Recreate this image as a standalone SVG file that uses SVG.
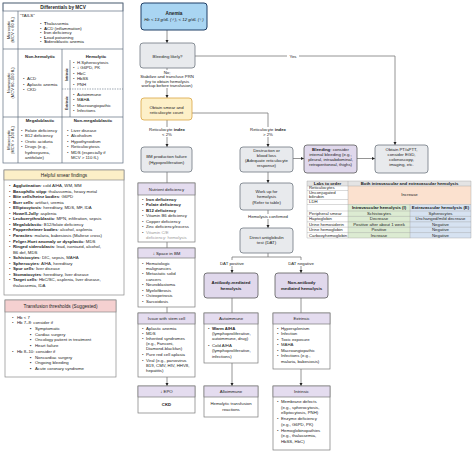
<svg xmlns="http://www.w3.org/2000/svg" width="474" height="454" viewBox="0 0 474 454">
<defs>
<style>
text{font-family:"Liberation Sans",Arial,sans-serif;font-size:4.3px;fill:#222}
.c{text-anchor:middle}
.b{font-weight:bold}
.i{font-style:italic}
.h{font-size:4.7px}
.s{font-size:3.3px}
.sm{font-size:4.1px}
.g{fill:#9a9a9a}
.node{fill:#e8eaed;stroke:#6f7780;stroke-width:0.8}
.pur{fill:#e0d8ec;stroke:#5a5a5a;stroke-width:0.8}
.card{fill:#fff;stroke:#7a7a7a;stroke-width:0.7}
.hd{fill:#e4dcef;stroke:#7a7a7a;stroke-width:0.7}
.tl{stroke:#5e6e80;stroke-width:0.7;fill:none}
.ln{stroke:#7a7a7a;stroke-width:0.8;fill:none}
.ar{marker-end:url(#ah)}
.bg{fill:#fff}
.tc{stroke:#a0a0a0;stroke-width:0.4}
</style>
<marker id="ah" viewBox="0 0 6 6" refX="6" refY="3" markerWidth="3.5" markerHeight="3.5" orient="auto" markerUnits="userSpaceOnUse"><path d="M0,0 L6,3 L0,6z" fill="#222"/></marker>
</defs>
<rect width="474" height="454" fill="#fff"/>

<g id="mcv-table">
<rect x="3" y="3" width="120" height="160" fill="#fff" class="tl"/>
<rect x="3" y="3" width="120" height="8" fill="#cfe2f3" class="tl"/>
<text x="63" y="8.6" class="c b h">Differentials by MCV</text>
<path class="tl" d="M3,49H123M3,117H123M18,11V163M62,49V163M70,60V117"/>
<path d="M62,89H123" stroke="#5e6e80" stroke-width="0.6" stroke-dasharray="1.5,1"/>
<text transform="translate(9.5,30) rotate(-90)" class="c sm"><tspan x="0" y="0">Microcytic</tspan><tspan x="0" y="4.4">(MCV &lt; 80 fL)</tspan></text>
<text transform="translate(9.5,83) rotate(-90)" class="c sm"><tspan x="0" y="0">Normocytic</tspan><tspan x="0" y="4.4">(MCV 80–100 fL)</tspan></text>
<text transform="translate(9.5,140) rotate(-90)" class="c sm"><tspan x="0" y="0">Macrocytic</tspan><tspan x="0" y="4.4">(MCV &gt; 100 fL)</tspan></text>
<text x="20" y="17">"TAILS"</text>
<text y="25"><tspan x="40">•</tspan><tspan x="44" class="b">T</tspan><tspan>halassemia</tspan></text>
<text y="29.5"><tspan x="40">•</tspan><tspan x="44" class="b">A</tspan><tspan>CD (inflammation)</tspan></text>
<text y="34"><tspan x="40">•</tspan><tspan x="44" class="b">I</tspan><tspan>ron deficiency</tspan></text>
<text y="38.5"><tspan x="40">•</tspan><tspan x="44" class="b">L</tspan><tspan>ead poisoning</tspan></text>
<text y="43"><tspan x="40">•</tspan><tspan x="44" class="b">S</tspan><tspan>ideroblastic anemia</tspan></text>
<text x="40" y="57.5" class="c b">Non-hemolytic</text>
<text x="96" y="57.5" class="c b">Hemolytic</text>
<text transform="translate(67.8,74.5) rotate(-90)" class="c b s">Intrinsic</text>
<text transform="translate(67.8,103) rotate(-90)" class="c b s">Extrinsic</text>
<text y="80"><tspan x="23">•</tspan><tspan x="27">ACD</tspan></text>
<text y="85.5"><tspan x="23">•</tspan><tspan x="27">Aplastic anemia</tspan></text>
<text y="91"><tspan x="23">•</tspan><tspan x="27">CKD</tspan></text>
<text y="63.5"><tspan x="73">•</tspan><tspan x="77">H.Spherocytosis</tspan></text>
<text y="69"><tspan x="73">•</tspan><tspan x="77">↓ G6PD, PK</tspan></text>
<text y="74.5"><tspan x="73">•</tspan><tspan x="77">HbC</tspan></text>
<text y="80"><tspan x="73">•</tspan><tspan x="77">HbSS</tspan></text>
<text y="85.5"><tspan x="73">•</tspan><tspan x="77">PNH</tspan></text>
<text y="95.5"><tspan x="73">•</tspan><tspan x="77">Autoimmune</tspan></text>
<text y="101"><tspan x="73">•</tspan><tspan x="77">MAHA</tspan></text>
<text y="106.5"><tspan x="73">•</tspan><tspan x="77">Macroangiopathic</tspan></text>
<text y="112"><tspan x="73">•</tspan><tspan x="77">Infections</tspan></text>
<text x="40" y="122" class="c b">Megaloblastic</text>
<text x="93" y="122" class="c b">Non-megaloblastic</text>
<text y="131.5"><tspan x="21">•</tspan><tspan x="25">Folate deficiency</tspan></text>
<text y="137"><tspan x="21">•</tspan><tspan x="25">B12 deficiency</tspan></text>
<text y="142.5"><tspan x="21">•</tspan><tspan x="25">Orotic aciduria</tspan></text>
<text y="148"><tspan x="21">•</tspan><tspan x="25">Drugs (e.g.,</tspan></text>
<text x="25" y="153.5">hydroxyurea,</text>
<text x="25" y="159">antifolate)</text>
<text y="131.5"><tspan x="67">•</tspan><tspan x="71">Liver disease</tspan></text>
<text y="137"><tspan x="67">•</tspan><tspan x="71">Alcoholism</tspan></text>
<text y="142.5"><tspan x="67">•</tspan><tspan x="71">Hypothyroidism</tspan></text>
<text y="148"><tspan x="67">•</tspan><tspan x="71">Reticulocytosis</tspan></text>
<text y="153.5"><tspan x="67">•</tspan><tspan x="71">MDS (especially if</tspan></text>
<text x="71" y="159">MCV &gt; 110 fL)</text>
</g>

<g id="smear-findings">
<rect x="4" y="170" width="120" height="125" fill="#fff" stroke="#8a8a8a" stroke-width="0.7"/>
<rect x="4" y="170" width="120" height="10" fill="#fcefc7" stroke="#8a8a8a" stroke-width="0.7"/>
<text x="64" y="176.6" class="c h">Helpful smear findings</text>
<g class="sm">
<text y="187"><tspan x="9">•</tspan><tspan x="13" class="b">Agglutination</tspan><tspan>: cold AIHA, WM, MM</tspan></text>
<text y="192.55"><tspan x="9">•</tspan><tspan x="13" class="b">Basophilic stipp</tspan><tspan>: thalassemia, heavy metal</tspan></text>
<text y="198.1"><tspan x="9">•</tspan><tspan x="13" class="b">Bite cells/heinz bodies</tspan><tspan>: G6PD</tspan></text>
<text y="203.65"><tspan x="9">•</tspan><tspan x="13" class="b">Burr cells</tspan><tspan>: artifact, uremia</tspan></text>
<text y="209.2"><tspan x="9">•</tspan><tspan x="13" class="b">Elliptocytosis</tspan><tspan>: hereditary, MDS, MF, IDA</tspan></text>
<text y="214.75"><tspan x="9">•</tspan><tspan x="13" class="b">Howell-Jolly</tspan><tspan>: asplenia</tspan></text>
<text y="220.3"><tspan x="9">•</tspan><tspan x="13" class="b">Leukoerythroblastic</tspan><tspan>: MPN, infiltration, sepsis</tspan></text>
<text y="225.85"><tspan x="9">•</tspan><tspan x="13" class="b">Megaloblastic</tspan><tspan>: B12/folate deficiency</tspan></text>
<text y="231.4"><tspan x="9">•</tspan><tspan x="13" class="b">Pappenheimer bodies</tspan><tspan>: alcohol, asplenia</tspan></text>
<text y="236.95"><tspan x="9">•</tspan><tspan x="13" class="b">Parasites</tspan><tspan>: malaria, babesiosis (Maltese cross)</tspan></text>
<text y="242.5"><tspan x="9">•</tspan><tspan x="13" class="b">Pelger-Huet anomaly or dysplastic</tspan><tspan>: MDS</tspan></text>
<text y="248.05"><tspan x="9">•</tspan><tspan x="13" class="b">Ringed sideroblasts</tspan><tspan>: lead, isoniazid, alcohol,</tspan></text>
<text x="13" y="253.6">B6 def, MDS</text>
<text y="259.15"><tspan x="9">•</tspan><tspan x="13" class="b">Schistocytes</tspan><tspan>: DIC, sepsis, MAHA</tspan></text>
<text y="264.7"><tspan x="9">•</tspan><tspan x="13" class="b">Spherocytes</tspan><tspan>: AIHA, hereditary</tspan></text>
<text y="270.25"><tspan x="9">•</tspan><tspan x="13" class="b">Spur cells</tspan><tspan>: liver disease</tspan></text>
<text y="275.8"><tspan x="9">•</tspan><tspan x="13" class="b">Stomatocytes</tspan><tspan>: hereditary, liver disease</tspan></text>
<text y="281.35"><tspan x="9">•</tspan><tspan x="13" class="b">Target cells</tspan><tspan>: HbC/SC, asplenia, liver disease,</tspan></text>
<text x="13" y="286.9">thalassemia, IDA</text>
</g>
</g>

<g id="transfusion">
<rect x="5" y="300" width="111" height="77" fill="#fff" stroke="#8a8a8a" stroke-width="0.7"/>
<rect x="5" y="300" width="111" height="12" fill="#f5d0d0" stroke="#8a8a8a" stroke-width="0.7"/>
<text x="60.5" y="307.5" class="c h">Transfusion thresholds (Suggested)</text>
<text y="318.5"><tspan x="12">•</tspan><tspan x="17">Hb &lt; 7</tspan></text>
<text y="324"><tspan x="12">•</tspan><tspan x="17">Hb 7–8: consider if</tspan></text>
<text y="330"><tspan x="30">▪</tspan><tspan x="35">Symptomatic</tspan></text>
<text y="335.7"><tspan x="30">▪</tspan><tspan x="35">Cardiac surgery</tspan></text>
<text y="341.4"><tspan x="30">▪</tspan><tspan x="35">Oncology patient in treatment</tspan></text>
<text y="347.1"><tspan x="30">▪</tspan><tspan x="35">Heart failure</tspan></text>
<text y="352.8"><tspan x="12">•</tspan><tspan x="17">Hb 8–10: consider if</tspan></text>
<text y="358.5"><tspan x="30">▪</tspan><tspan x="35">Noncardiac surgery</tspan></text>
<text y="364.2"><tspan x="30">▪</tspan><tspan x="35">Ongoing bleeding</tspan></text>
<text y="369.9"><tspan x="30">▪</tspan><tspan x="35">Acute coronary syndrome</tspan></text>
</g>

<g id="connectors">
<path class="ln ar" d="M167,30V43"/>
<path class="ln ar" d="M167,68V98"/>
<path class="ln ar" d="M195,56H395V145"/>
<path class="ln ar" d="M167,120V147"/>
<path class="ln ar" d="M192,113H268V147"/>
<path class="ln ar" d="M293,158.5H304"/>
<path class="ln ar" d="M357,158.5H375"/>
<path class="ln ar" d="M268,172V183"/>
<path class="ln ar" d="M268,210V228"/>
<path class="ln" d="M268,253V257M232,257H301"/>
<path class="ln ar" d="M232,257V273"/>
<path class="ln ar" d="M301,257V273"/>
<path class="ln" d="M167,172V183M167,242V248M167,307V313"/>
<path class="ln ar" d="M167,377V386"/>
<path class="ln" d="M232,298V313"/>
<path class="ln ar" d="M232,363V386"/>
<path class="ln" d="M301,298V313"/>
<path class="ln ar" d="M301,369V386"/>
<rect class="bg" x="135" y="70" width="64" height="18"/>
<text x="167" y="73.5" class="c">No;</text>
<text x="167" y="78" class="c">Stabilize and transfuse PRN</text>
<text x="167" y="82.5" class="c">(try to obtain hemolysis</text>
<text x="167" y="87" class="c">workup before transfusion)</text>
<rect class="bg" x="287" y="53" width="12" height="6"/>
<text x="293" y="57.5" class="c">Yes</text>
<rect class="bg" x="145" y="127" width="44" height="10"/>
<text x="167" y="131" class="c">Reticulocyte <tspan class="b">index</tspan></text>
<text x="167" y="136" class="c">&lt; 2%</text>
<rect class="bg" x="246" y="127" width="44" height="10"/>
<text x="268" y="131" class="c">Reticulocyte <tspan class="b">index</tspan></text>
<text x="268" y="136" class="c">&gt; 2%</text>
<rect class="bg" x="246" y="214" width="44" height="5"/>
<text x="268" y="218" class="c">Hemolysis confirmed</text>
<rect class="bg" x="218" y="260" width="28" height="6"/>
<text x="232" y="264.5" class="c">DAT positive</text>
<rect class="bg" x="286" y="260" width="30" height="6"/>
<text x="301" y="264.5" class="c">DAT negative</text>
</g>

<g id="anemia">
<rect x="141" y="3" width="66" height="27" rx="3" fill="#a9d5f2" stroke="#1f3f66" stroke-width="1"/>
<text x="174" y="14.5" class="c b h">Anemia</text>
<text x="174" y="20.5" class="c i">Hb &lt; 13 g/dL (♂), &lt; 12 g/dL (♀)</text>
</g>
<g id="bleeding-likely">
<rect x="140" y="43" width="55" height="25" rx="3" class="node"/>
<text x="167.5" y="57.5" class="c">Bleeding likely?</text>
</g>
<g id="obtain-smear">
<rect x="141" y="98" width="51" height="22" rx="3" fill="#fdf0c8" stroke="#d9a441" stroke-width="0.8"/>
<text x="166.5" y="108.5" class="c">Obtain smear and</text>
<text x="166.5" y="114" class="c">reticulocyte count</text>
</g>
<g id="bm-failure">
<rect x="141" y="147" width="51" height="25" rx="3" class="node"/>
<text x="166.5" y="158" class="c">BM production failure</text>
<text x="166.5" y="164" class="c">(Hypoproliferation)</text>
</g>
<g id="destruction">
<rect x="240" y="147" width="53" height="25" rx="3" class="node"/>
<text x="266.5" y="152" class="c">Destruction or</text>
<text x="266.5" y="157" class="c">blood loss</text>
<text x="266.5" y="162.3" class="c">(Adequate reticulocyte</text>
<text x="266.5" y="167.3" class="c">response)</text>
</g>
<g id="bleeding">
<rect x="304" y="145" width="53" height="28" rx="3" class="pur"/>
<text x="330.5" y="150.5" class="c"><tspan class="b">Bleeding</tspan>: consider</text>
<text x="330.5" y="155.5" class="c">internal bleeding (e.g.,</text>
<text x="330.5" y="160.5" class="c">pleural, intraabdominal,</text>
<text x="330.5" y="165.5" class="c">retroperitoneal, thighs)</text>
</g>
<g id="obtain-pt">
<rect x="375" y="145" width="53" height="28" rx="3" class="node"/>
<text x="401.5" y="151" class="c">Obtain PT/aPTT,</text>
<text x="401.5" y="156" class="c">consider EGD,</text>
<text x="401.5" y="161" class="c">colonoscopy,</text>
<text x="401.5" y="166" class="c">imaging, etc.</text>
</g>
<g id="workup">
<rect x="240" y="183" width="53" height="27" rx="3" class="node"/>
<text x="266.5" y="192.5" class="c">Work up for</text>
<text x="266.5" y="198" class="c">hemolysis</text>
<text x="266.5" y="204" class="c">(Refer to table)</text>
</g>
<g id="dat">
<rect x="240" y="228" width="53" height="25" rx="3" class="node"/>
<text x="266.5" y="238.5" class="c">Direct antiglobulin</text>
<text x="266.5" y="244" class="c">test (DAT)</text>
</g>
<g id="antibody">
<rect x="204" y="273" width="54" height="25" rx="3" class="pur"/>
<text x="231" y="284" class="c b">Antibody-mediated</text>
<text x="231" y="290" class="c b">hemolysis</text>
</g>
<g id="non-antibody">
<rect x="275" y="273" width="53" height="25" rx="3" class="pur"/>
<text x="301.5" y="284" class="c b">Non-antibody</text>
<text x="301.5" y="290" class="c b">mediated hemolysis</text>
</g>

<g id="nutrient">
<rect x="138" y="183" width="57" height="59" class="card"/>
<rect x="138" y="183" width="57" height="12" class="hd"/>
<text x="166.5" y="190.8" class="c">Nutrient deficiency</text>
<text y="200.5"><tspan x="142">•</tspan><tspan x="146" class="b">Iron deficiency</tspan></text>
<text y="206"><tspan x="142">•</tspan><tspan x="146" class="b">Folate deficiency</tspan></text>
<text y="211.5"><tspan x="142">•</tspan><tspan x="146" class="b">B12 deficiency</tspan></text>
<text y="217"><tspan x="142">•</tspan><tspan x="146">Vitamin B6 deficiency</tspan></text>
<text y="222.5"><tspan x="142">•</tspan><tspan x="146">Copper deficiency</tspan></text>
<text y="228"><tspan x="142">•</tspan><tspan x="146">Zinc deficiency/excess</tspan></text>
<text y="233.5"><tspan x="142">•</tspan><tspan x="146" class="g">Vitamin C/E</tspan></text>
<text x="146" y="238.5" class="g">deficiency: hemolysis</text>
</g>
<g id="space-bm">
<rect x="138" y="248" width="57" height="59" class="card"/>
<rect x="138" y="248" width="57" height="10" class="hd"/>
<text x="166.5" y="254.8" class="c">↓ Space in BM</text>
<text y="264.5"><tspan x="142">•</tspan><tspan x="146">Hematologic</tspan></text>
<text x="146" y="269.8">malignancies</text>
<text y="275.2"><tspan x="142">•</tspan><tspan x="146">Metastatic solid</tspan></text>
<text x="146" y="280.5">cancers</text>
<text y="286"><tspan x="142">•</tspan><tspan x="146">Neuroblastoma</tspan></text>
<text y="291.5"><tspan x="142">•</tspan><tspan x="146">Myelofibrosis</tspan></text>
<text y="297"><tspan x="142">•</tspan><tspan x="146">Osteopetrosis</tspan></text>
<text y="302.5"><tspan x="142">•</tspan><tspan x="146">Sarcoidosis</tspan></text>
</g>
<g id="stem-cell">
<rect x="138" y="313" width="57" height="64" class="card"/>
<rect x="138" y="313" width="57" height="11" class="hd"/>
<text x="166.5" y="320.3" class="c">Issue with stem cell</text>
<text y="330"><tspan x="142">•</tspan><tspan x="146">Aplastic anemia</tspan></text>
<text y="335"><tspan x="142">•</tspan><tspan x="146">MDS</tspan></text>
<text y="340"><tspan x="142">•</tspan><tspan x="146">Inherited syndromes</tspan></text>
<text x="146" y="345.2">(e.g., Fanconi,</text>
<text x="146" y="350.4">Diamond-blackfan)</text>
<text y="356"><tspan x="142">•</tspan><tspan x="146">Pure red cell aplasia</tspan></text>
<text y="361.5"><tspan x="142">•</tspan><tspan x="146">Viral (e.g., parvovirus</tspan></text>
<text x="146" y="366.8">B19, CMV, HIV, HHV8,</text>
<text x="146" y="372.1">hepatitis)</text>
</g>
<g id="epo">
<rect x="138" y="386" width="57" height="27" class="card"/>
<rect x="138" y="386" width="57" height="11" class="hd"/>
<text x="166.5" y="393.3" class="c">↓ EPO</text>
<text x="166.5" y="406" class="c b">CKD</text>
</g>
<g id="autoimmune">
<rect x="204" y="313" width="54" height="50" class="card"/>
<rect x="204" y="313" width="54" height="11" class="hd"/>
<text x="231" y="320.3" class="c">Autoimmune</text>
<text y="330"><tspan x="208">•</tspan><tspan x="212" class="b">Warm AIHA</tspan></text>
<text x="212" y="335">(lymphoproliferative,</text>
<text x="212" y="340">autoimmune, drug)</text>
<text y="346.8"><tspan x="208">•</tspan><tspan x="212">Cold AIHA</tspan></text>
<text x="212" y="352.3">(lymphoproliferative,</text>
<text x="212" y="357.8">infections)</text>
</g>
<g id="alloimmune">
<rect x="204" y="386" width="54" height="31" class="card"/>
<rect x="204" y="386" width="54" height="11" class="hd"/>
<text x="231" y="393.3" class="c">Alloimmune</text>
<text x="231" y="404.8" class="c">Hemolytic transfusion</text>
<text x="231" y="410.5" class="c">reactions</text>
</g>
<g id="extrinsic">
<rect x="273" y="313" width="57" height="56" class="card"/>
<rect x="273" y="313" width="57" height="11" class="hd"/>
<text x="301.5" y="320.3" class="c">Extrinsic</text>
<text y="330"><tspan x="277">•</tspan><tspan x="281">Hypersplenism</tspan></text>
<text y="335.3"><tspan x="277">•</tspan><tspan x="281">Infection</tspan></text>
<text y="340.6"><tspan x="277">•</tspan><tspan x="281">Toxic exposure</tspan></text>
<text y="346.3"><tspan x="277">•</tspan><tspan x="281">MAHA</tspan></text>
<text y="351.8"><tspan x="277">•</tspan><tspan x="281">Macroangiopathic</tspan></text>
<text y="357.3"><tspan x="277">•</tspan><tspan x="281">Infections (e.g.,</tspan></text>
<text x="281" y="362.8">malaria, babesiosis)</text>
</g>
<g id="intrinsic">
<rect x="273" y="386" width="57" height="64" class="card"/>
<rect x="273" y="386" width="57" height="11" class="hd"/>
<text x="301.5" y="393.3" class="c">Intrinsic</text>
<text y="403"><tspan x="277">•</tspan><tspan x="281">Membrane defects</tspan></text>
<text x="281" y="408.5">(e.g., spherocytosis,</text>
<text x="281" y="414">elliptocytosis, PNH)</text>
<text y="420"><tspan x="277">•</tspan><tspan x="281">Enzyme deficiency</tspan></text>
<text x="281" y="425.5">(e.g., G6PD, PK)</text>
<text y="431.5"><tspan x="277">•</tspan><tspan x="281">Hemoglobinopathies</tspan></text>
<text x="281" y="437">(e.g., thalassemia,</text>
<text x="281" y="442.5">HbSS, HbC)</text>
</g>

<g id="labs-table">
<rect x="307" y="181" width="164" height="5" fill="#e4e4e4"/>
<rect x="348" y="186" width="123" height="18.5" fill="#fbe1cf"/>
<rect x="348" y="204.5" width="62" height="33.5" fill="#dcebd2"/>
<rect x="410" y="204.5" width="61" height="33.5" fill="#d6e2f1"/>
<g class="tc">
<path d="M307,181H471M307,186H471M307,190.5H348M307,199.5H348M307,204.5H471M307,211H471M307,216.4H471M307,221.8H471M307,227.2H471M307,232.6H471M307,238H471"/>
<path d="M307,181V238M348,181V238M410,204.5V238M471,181V238"/>
</g>
<g class="s">
<text x="327.5" y="184.6" class="c b">Labs to order</text>
<text x="409.5" y="184.6" class="c b">Both intravascular and extravascular hemolysis</text>
<text x="309" y="189.4">Reticulocytes</text>
<text x="309" y="194.3">Unconjugated</text>
<text x="309" y="198.4">bilirubin</text>
<text x="309" y="203.3">LDH</text>
<text x="409.5" y="196.3" class="c">Increase</text>
<text x="379" y="209" class="c b">Intravascular hemolysis (I)</text>
<text x="440.5" y="209" class="c b">Extravascular hemolysis (E)</text>
<text x="309" y="215">Peripheral smear</text>
<text x="379" y="215" class="c">Schistocytes</text>
<text x="440.5" y="215" class="c">Spherocytes</text>
<text x="309" y="220.4">Haptoglobin</text>
<text x="379" y="220.4" class="c">Decrease</text>
<text x="440.5" y="220.4" class="c">Unchanged/mild decrease</text>
<text x="309" y="225.8">Urine hemosiderin</text>
<text x="379" y="225.8" class="c">Positive after about 1 week</text>
<text x="440.5" y="225.8" class="c">Negative</text>
<text x="309" y="231.2">Urine hemoglobin</text>
<text x="379" y="231.2" class="c">Positive</text>
<text x="440.5" y="231.2" class="c">Negative</text>
<text x="309" y="236.6">Carboxyhemoglobin</text>
<text x="379" y="236.6" class="c">Increase</text>
<text x="440.5" y="236.6" class="c">Negative</text>
</g>
</g>
</svg>
